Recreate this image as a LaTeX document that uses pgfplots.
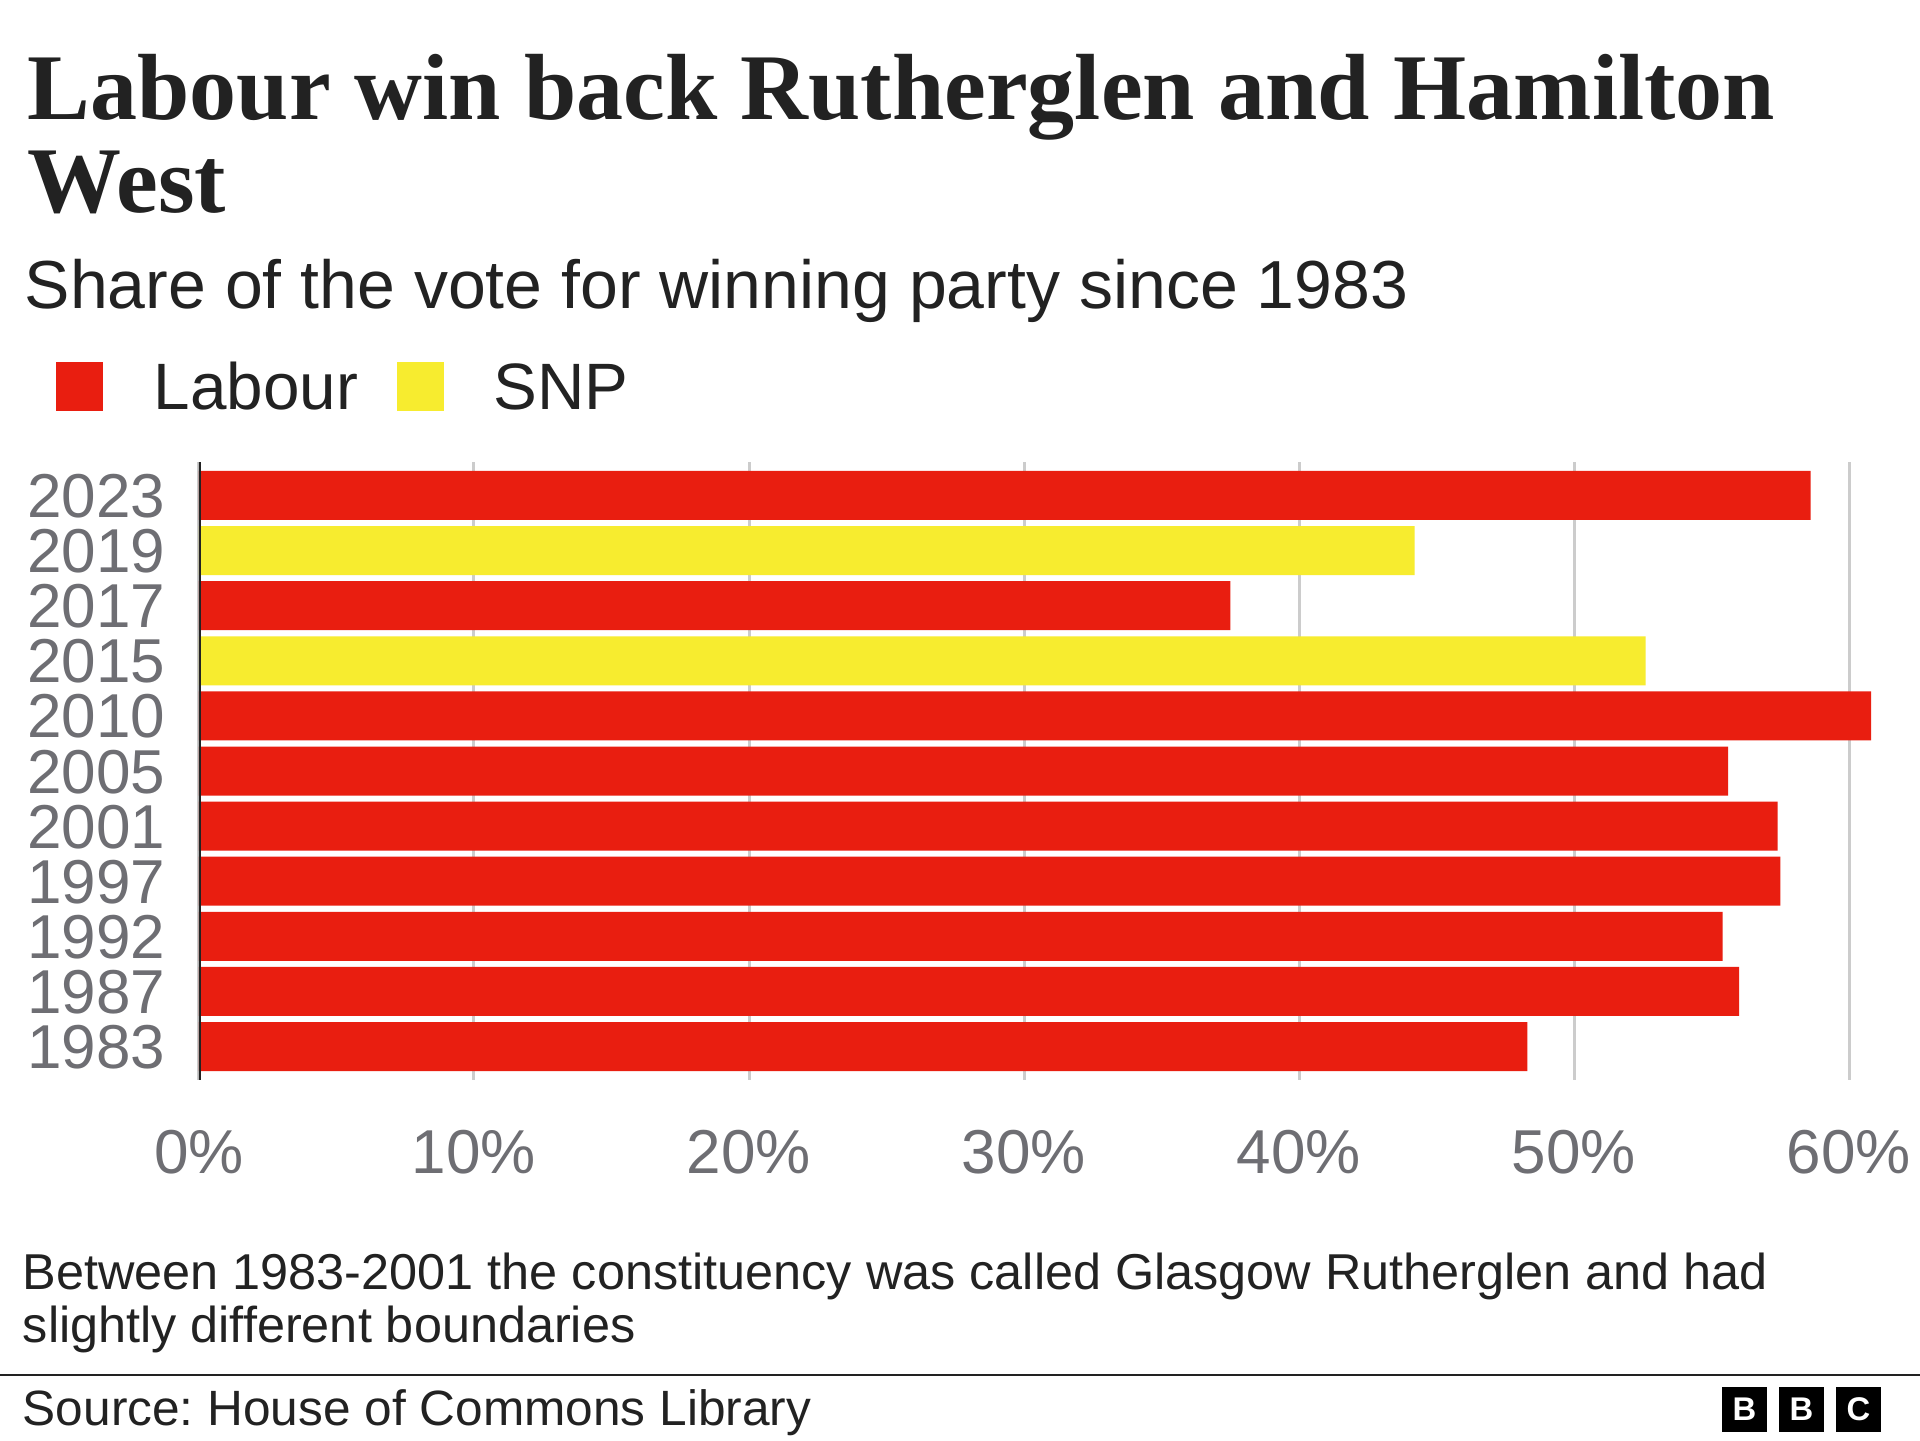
\documentclass[border=0pt]{standalone}
\usepackage{pgfplots}
\pgfplotsset{compat=1.18}
\usepackage{fontspec}
\setmainfont{Liberation Sans}
\newfontfamily\titlefont{Liberation Serif}
\definecolor{labour}{HTML}{E91E10}
\definecolor{snp}{HTML}{F7EC2F}
\definecolor{gridc}{HTML}{CCCCCC}
\definecolor{tickc}{HTML}{6E6E73}
\definecolor{txt}{HTML}{222222}
\frenchspacing
\begin{document}
\begin{tikzpicture}
\path[use as bounding box, fill=white] (0,0) rectangle (480pt,-360pt);
\begin{axis}[
  at={(199*0.25pt,-1079.6*0.25pt)}, anchor=south west,
  scale only axis, width=426.25pt, height=154.3pt,
  xmin=0, xmax=62, ymin=-0.6, ymax=10.6,
  ytick={0,...,10},
  yticklabels={1983,1987,1992,1997,2001,2005,2010,2015,2017,2019,2023},
  xtick={0,10,20,30,40,50,60},
  xticklabels={0\%,10\%,20\%,30\%,40\%,50\%,60\%},
  xmajorgrids, grid style={draw=gridc, line width=0.75pt},
  axis line style={draw=none},
  major tick length=0pt,
  tick label style={font=\fontsize{15.5}{18}\selectfont, text=tickc},
  yticklabel style={inner sep=0pt, xshift=-8.3pt, text height=11pt, text depth=0pt},
  xticklabel style={yshift=-9pt},
]
\addplot[xbar, bar width=12.25pt, bar shift=0pt, fill=labour, draw=none]
  coordinates {(48.3,0) (56.0,1) (55.4,2) (57.5,3) (57.4,4) (55.6,5) (60.8,6) (37.5,8) (58.6,10)};
\addplot[xbar, bar width=12.25pt, bar shift=0pt, fill=snp, draw=none]
  coordinates {(52.6,7) (44.2,9)};
\draw[line width=1.25pt, txt] (axis cs:0,-0.6) -- (axis cs:0,10.6);
\end{axis}
\begin{scope}[x=0.25pt, y=-0.25pt]
\node[anchor=base west, inner sep=0, text=txt, font=\titlefont\bfseries\fontsize{23.5}{28}\selectfont] at (27,119) {Labour win back Rutherglen and Hamilton};
\node[anchor=base west, inner sep=0, text=txt, font=\titlefont\bfseries\fontsize{23.5}{28}\selectfont] at (27,212) {West};
\node[anchor=base west, inner sep=0, text=txt, font=\fontsize{17}{20}\selectfont] at (24,308.5) {Share of the vote for winning party since 1983};
\fill[labour] (56,362) rectangle (103,411);
\fill[snp] (397,362) rectangle (444,411);
\node[anchor=base west, inner sep=0, text=txt, font=\fontsize{16.4}{20}\selectfont] at (153,409) {Labour};
\node[anchor=base west, inner sep=0, text=txt, font=\fontsize{16.4}{20}\selectfont] at (493,409) {SNP};
\node[anchor=base west, inner sep=0, text=txt, font=\fontsize{12.6}{16}\selectfont] at (22,1289.5) {Between 1983-2001 the constituency was called Glasgow Rutherglen and had};
\node[anchor=base west, inner sep=0, text=txt, font=\fontsize{12.6}{16}\selectfont] at (22,1342) {slightly different boundaries};
\draw[line width=0.6pt, txt] (0,1375) -- (1920,1375);
\node[anchor=base west, inner sep=0, text=txt, font=\fontsize{12.4}{16}\selectfont] at (22,1425) {Source: House of Commons Library};
\foreach \xx/\ll in {1722/B,1779/B,1836/C} {
  \fill[black] (\xx,1387) rectangle ++(45,45);
  \node[text=white, inner sep=0, font=\bfseries\fontsize{8.2}{9}\selectfont] at (\xx+22.5,1409.5) {\ll};
}
\end{scope}
\end{tikzpicture}
\end{document}
